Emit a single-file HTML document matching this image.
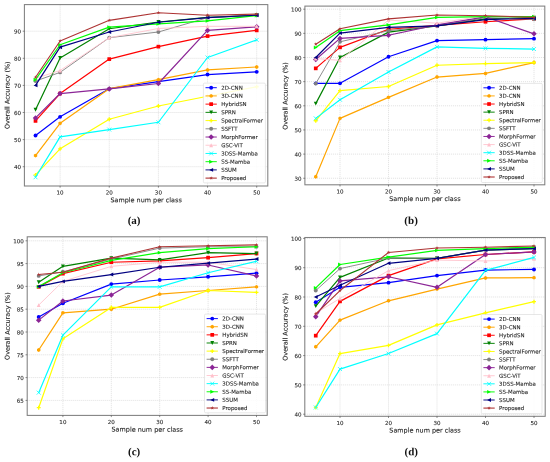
<!DOCTYPE html>
<html><head><meta charset="utf-8"><title>Overall accuracy vs. samples per class</title>
<style>
html,body{margin:0;padding:0;background:#fff;}
body{width:550px;height:462px;overflow:hidden;}
svg{display:block;text-rendering:geometricPrecision;}
.tk{font-family:'DejaVu Sans', 'Liberation Sans', sans-serif;font-size:5.55px;fill:#262626;stroke:#262626;stroke-width:0.1px;}
.lb{font-family:'DejaVu Sans', 'Liberation Sans', sans-serif;font-size:6.45px;fill:#262626;stroke:#262626;stroke-width:0.1px;}
.lg{font-family:'DejaVu Sans', 'Liberation Sans', sans-serif;font-size:5.45px;fill:#262626;stroke:#262626;stroke-width:0.1px;}
.cp{font-family:'Liberation Serif',serif;font-weight:bold;font-size:11px;fill:#111;}
</style></head>
<body>
<svg width="550" height="462" viewBox="0 0 550 462">
<rect width="550" height="462" fill="#fff"/>
<path d="M60.10 4.60V186.00M109.25 4.60V186.00M158.40 4.60V186.00M207.55 4.60V186.00M256.70 4.60V186.00M24.40 166.70H267.80M24.40 139.60H267.80M24.40 112.50H267.80M24.40 85.40H267.80M24.40 58.30H267.80M24.40 31.20H267.80" stroke="#d9d9d9" stroke-width="0.75" stroke-dasharray="1.1 0.9" fill="none"/>
<path d="M35.53 135.53L60.10 116.84L109.25 88.65L158.40 81.61L207.55 74.56L256.70 71.85" stroke="#0000ff" stroke-width="1.2" fill="none" stroke-linejoin="round"/>
<circle cx="35.53" cy="135.53" r="1.95" fill="#0000ff"/>
<circle cx="60.10" cy="116.84" r="1.95" fill="#0000ff"/>
<circle cx="109.25" cy="88.65" r="1.95" fill="#0000ff"/>
<circle cx="158.40" cy="81.61" r="1.95" fill="#0000ff"/>
<circle cx="207.55" cy="74.56" r="1.95" fill="#0000ff"/>
<circle cx="256.70" cy="71.85" r="1.95" fill="#0000ff"/>
<path d="M35.53 155.59L60.10 123.34L109.25 88.65L158.40 79.71L207.55 69.95L256.70 66.97" stroke="#ffa500" stroke-width="1.2" fill="none" stroke-linejoin="round"/>
<polygon points="35.53,153.64 37.21,154.61 37.21,156.56 35.53,157.54 33.84,156.56 33.84,154.61" fill="#ffa500"/>
<polygon points="60.10,121.39 61.79,122.37 61.79,124.31 60.10,125.29 58.41,124.31 58.41,122.37" fill="#ffa500"/>
<polygon points="109.25,86.70 110.94,87.68 110.94,89.63 109.25,90.60 107.56,89.63 107.56,87.68" fill="#ffa500"/>
<polygon points="158.40,77.76 160.09,78.73 160.09,80.68 158.40,81.66 156.71,80.68 156.71,78.73" fill="#ffa500"/>
<polygon points="207.55,68.00 209.24,68.98 209.24,70.93 207.55,71.90 205.86,70.93 205.86,68.98" fill="#ffa500"/>
<polygon points="256.70,65.02 258.39,66.00 258.39,67.95 256.70,68.92 255.01,67.95 255.01,66.00" fill="#ffa500"/>
<path d="M35.53 120.90L60.10 93.53L109.25 59.11L158.40 46.65L207.55 36.08L256.70 30.39" stroke="#ff0000" stroke-width="1.2" fill="none" stroke-linejoin="round"/>
<rect x="33.67" y="119.05" width="3.70" height="3.70" fill="#ff0000"/>
<rect x="58.25" y="91.68" width="3.70" height="3.70" fill="#ff0000"/>
<rect x="107.40" y="57.26" width="3.70" height="3.70" fill="#ff0000"/>
<rect x="156.55" y="44.79" width="3.70" height="3.70" fill="#ff0000"/>
<rect x="205.70" y="34.23" width="3.70" height="3.70" fill="#ff0000"/>
<rect x="254.85" y="28.53" width="3.70" height="3.70" fill="#ff0000"/>
<path d="M35.53 109.79L60.10 58.03L109.25 28.76L158.40 21.99L207.55 17.38L256.70 15.21" stroke="#008000" stroke-width="1.2" fill="none" stroke-linejoin="round"/>
<polygon points="35.53,111.74 33.58,107.84 37.48,107.84" fill="#008000"/>
<polygon points="60.10,59.98 58.15,56.08 62.05,56.08" fill="#008000"/>
<polygon points="109.25,30.71 107.30,26.81 111.20,26.81" fill="#008000"/>
<polygon points="158.40,23.94 156.45,20.04 160.35,20.04" fill="#008000"/>
<polygon points="207.55,19.33 205.60,15.43 209.50,15.43" fill="#008000"/>
<polygon points="256.70,17.16 254.75,13.26 258.65,13.26" fill="#008000"/>
<path d="M35.53 174.83L60.10 148.81L109.25 119.28L158.40 106.00L207.55 96.24L256.70 86.75" stroke="#ffff00" stroke-width="1.2" fill="none" stroke-linejoin="round"/>
<polygon points="34.88,172.88 36.18,172.88 36.18,174.18 37.48,174.18 37.48,175.48 36.18,175.48 36.18,176.78 34.88,176.78 34.88,175.48 33.58,175.48 33.58,174.18 34.88,174.18" fill="#ffff00"/>
<polygon points="59.45,146.86 60.75,146.86 60.75,148.16 62.05,148.16 62.05,149.46 60.75,149.46 60.75,150.76 59.45,150.76 59.45,149.46 58.15,149.46 58.15,148.16 59.45,148.16" fill="#ffff00"/>
<polygon points="108.60,117.33 109.90,117.33 109.90,118.62 111.20,118.62 111.20,119.93 109.90,119.93 109.90,121.23 108.60,121.23 108.60,119.93 107.30,119.93 107.30,118.62 108.60,118.62" fill="#ffff00"/>
<polygon points="157.75,104.05 159.05,104.05 159.05,105.35 160.35,105.35 160.35,106.65 159.05,106.65 159.05,107.95 157.75,107.95 157.75,106.65 156.45,106.65 156.45,105.35 157.75,105.35" fill="#ffff00"/>
<polygon points="206.90,94.29 208.20,94.29 208.20,95.59 209.50,95.59 209.50,96.89 208.20,96.89 208.20,98.19 206.90,98.19 206.90,96.89 205.60,96.89 205.60,95.59 206.90,95.59" fill="#ffff00"/>
<polygon points="256.05,84.80 257.35,84.80 257.35,86.10 258.65,86.10 258.65,87.41 257.35,87.41 257.35,88.70 256.05,88.70 256.05,87.41 254.75,87.41 254.75,86.10 256.05,86.10" fill="#ffff00"/>
<path d="M35.53 81.06L60.10 72.39L109.25 37.70L158.40 32.01L207.55 17.65L256.70 15.21" stroke="#808080" stroke-width="0.9" fill="none" stroke-linejoin="round"/>
<circle cx="35.53" cy="81.06" r="1.95" fill="#808080"/>
<circle cx="60.10" cy="72.39" r="1.95" fill="#808080"/>
<circle cx="109.25" cy="37.70" r="1.95" fill="#808080"/>
<circle cx="158.40" cy="32.01" r="1.95" fill="#808080"/>
<circle cx="207.55" cy="17.65" r="1.95" fill="#808080"/>
<circle cx="256.70" cy="15.21" r="1.95" fill="#808080"/>
<path d="M35.53 117.92L60.10 93.53L109.25 88.92L158.40 83.50L207.55 30.39L256.70 26.86" stroke="#8b2596" stroke-width="1.2" fill="none" stroke-linejoin="round"/>
<polygon points="35.53,115.15 38.29,117.92 35.53,120.69 32.76,117.92" fill="#8b2596"/>
<polygon points="60.10,90.76 62.87,93.53 60.10,96.30 57.33,93.53" fill="#8b2596"/>
<polygon points="109.25,86.15 112.02,88.92 109.25,91.69 106.48,88.92" fill="#8b2596"/>
<polygon points="158.40,80.73 161.17,83.50 158.40,86.27 155.63,83.50" fill="#8b2596"/>
<polygon points="207.55,27.62 210.32,30.39 207.55,33.16 204.78,30.39" fill="#8b2596"/>
<polygon points="256.70,24.10 259.47,26.86 256.70,29.63 253.93,26.86" fill="#8b2596"/>
<path d="M35.53 78.35L60.10 70.50L109.25 37.70L158.40 28.49L207.55 26.32L256.70 26.32" stroke="#ffc0cb" stroke-width="0.85" fill="none" stroke-linejoin="round"/>
<polygon points="35.53,76.40 33.58,80.30 37.48,80.30" fill="#ffc0cb"/>
<polygon points="60.10,68.55 58.15,72.45 62.05,72.45" fill="#ffc0cb"/>
<polygon points="109.25,35.75 107.30,39.65 111.20,39.65" fill="#ffc0cb"/>
<polygon points="158.40,26.54 156.45,30.44 160.35,30.44" fill="#ffc0cb"/>
<polygon points="207.55,24.37 205.60,28.27 209.50,28.27" fill="#ffc0cb"/>
<polygon points="256.70,24.37 254.75,28.27 258.65,28.27" fill="#ffc0cb"/>
<path d="M35.53 177.27L60.10 136.89L109.25 129.57L158.40 122.26L207.55 57.49L256.70 39.87" stroke="#00ffff" stroke-width="1.2" fill="none" stroke-linejoin="round"/>
<path d="M33.58 175.32L37.48 179.22M33.58 179.22L37.48 175.32" stroke="#00ffff" stroke-width="0.8" fill="none"/>
<path d="M58.15 134.94L62.05 138.84M58.15 138.84L62.05 134.94" stroke="#00ffff" stroke-width="0.8" fill="none"/>
<path d="M107.30 127.62L111.20 131.52M107.30 131.52L111.20 127.62" stroke="#00ffff" stroke-width="0.8" fill="none"/>
<path d="M156.45 120.31L160.35 124.21M156.45 124.21L160.35 120.31" stroke="#00ffff" stroke-width="0.8" fill="none"/>
<path d="M205.60 55.54L209.50 59.44M205.60 59.44L209.50 55.54" stroke="#00ffff" stroke-width="0.8" fill="none"/>
<path d="M254.75 37.92L258.65 41.82M254.75 41.82L258.65 37.92" stroke="#00ffff" stroke-width="0.8" fill="none"/>
<path d="M35.53 79.71L60.10 44.75L109.25 27.13L158.40 23.88L207.55 20.90L256.70 15.48" stroke="#00ff00" stroke-width="1.2" fill="none" stroke-linejoin="round"/>
<polygon points="37.48,79.71 33.58,77.76 33.58,81.66" fill="#00ff00"/>
<polygon points="62.05,44.75 58.15,42.80 58.15,46.70" fill="#00ff00"/>
<polygon points="111.20,27.13 107.30,25.18 107.30,29.08" fill="#00ff00"/>
<polygon points="160.35,23.88 156.45,21.93 156.45,25.83" fill="#00ff00"/>
<polygon points="209.50,20.90 205.60,18.95 205.60,22.85" fill="#00ff00"/>
<polygon points="258.65,15.48 254.75,13.53 254.75,17.43" fill="#00ff00"/>
<path d="M35.53 85.40L60.10 47.19L109.25 32.01L158.40 22.26L207.55 17.65L256.70 15.21" stroke="#000080" stroke-width="1.2" fill="none" stroke-linejoin="round"/>
<polygon points="33.58,85.40 37.48,83.45 37.48,87.35" fill="#000080"/>
<polygon points="58.15,47.19 62.05,45.24 62.05,49.14" fill="#000080"/>
<polygon points="107.30,32.01 111.20,30.06 111.20,33.96" fill="#000080"/>
<polygon points="156.45,22.26 160.35,20.31 160.35,24.21" fill="#000080"/>
<polygon points="205.60,17.65 209.50,15.70 209.50,19.60" fill="#000080"/>
<polygon points="254.75,15.21 258.65,13.26 258.65,17.16" fill="#000080"/>
<path d="M35.53 77.27L60.10 40.96L109.25 20.36L158.40 12.77L207.55 15.21L256.70 14.13" stroke="#ad3333" stroke-width="1.1" fill="none" stroke-linejoin="round"/>
<polygon points="35.53,75.32 35.96,76.67 37.38,76.67 36.23,77.50 36.67,78.85 35.53,78.01 34.38,78.85 34.82,77.50 33.67,76.67 35.09,76.67" fill="#ad3333"/>
<polygon points="60.10,39.01 60.54,40.35 61.95,40.35 60.81,41.19 61.25,42.53 60.10,41.70 58.95,42.53 59.39,41.19 58.25,40.35 59.66,40.35" fill="#ad3333"/>
<polygon points="109.25,18.41 109.69,19.76 111.10,19.76 109.96,20.59 110.40,21.94 109.25,21.10 108.10,21.94 108.54,20.59 107.40,19.76 108.81,19.76" fill="#ad3333"/>
<polygon points="158.40,10.82 158.84,12.17 160.25,12.17 159.11,13.00 159.55,14.35 158.40,13.52 157.25,14.35 157.69,13.00 156.55,12.17 157.96,12.17" fill="#ad3333"/>
<polygon points="207.55,13.26 207.99,14.61 209.40,14.61 208.26,15.44 208.70,16.79 207.55,15.96 206.40,16.79 206.84,15.44 205.70,14.61 207.11,14.61" fill="#ad3333"/>
<polygon points="256.70,12.18 257.14,13.52 258.55,13.52 257.41,14.36 257.85,15.70 256.70,14.87 255.55,15.70 255.99,14.36 254.85,13.52 256.26,13.52" fill="#ad3333"/>
<rect x="24.40" y="4.60" width="243.40" height="181.40" fill="none" stroke="#7f7f7f" stroke-width="1.05"/>
<path d="M60.10 186.00v1.7M109.25 186.00v1.7M158.40 186.00v1.7M207.55 186.00v1.7M256.70 186.00v1.7M24.40 166.70h-1.7M24.40 139.60h-1.7M24.40 112.50h-1.7M24.40 85.40h-1.7M24.40 58.30h-1.7M24.40 31.20h-1.7" stroke="#444" stroke-width="0.6" fill="none"/>
<text x="60.10" y="194.60" transform="rotate(0.05 60.10 194.60)" text-anchor="middle" class="tk">10</text>
<text x="109.25" y="194.60" transform="rotate(0.05 109.25 194.60)" text-anchor="middle" class="tk">20</text>
<text x="158.40" y="194.60" transform="rotate(0.05 158.40 194.60)" text-anchor="middle" class="tk">30</text>
<text x="207.55" y="194.60" transform="rotate(0.05 207.55 194.60)" text-anchor="middle" class="tk">40</text>
<text x="256.70" y="194.60" transform="rotate(0.05 256.70 194.60)" text-anchor="middle" class="tk">50</text>
<text x="21.10" y="169.10" transform="rotate(0.05 21.10 169.10)" text-anchor="end" class="tk">40</text>
<text x="21.10" y="142.00" transform="rotate(0.05 21.10 142.00)" text-anchor="end" class="tk">50</text>
<text x="21.10" y="114.90" transform="rotate(0.05 21.10 114.90)" text-anchor="end" class="tk">60</text>
<text x="21.10" y="87.80" transform="rotate(0.05 21.10 87.80)" text-anchor="end" class="tk">70</text>
<text x="21.10" y="60.70" transform="rotate(0.05 21.10 60.70)" text-anchor="end" class="tk">80</text>
<text x="21.10" y="33.60" transform="rotate(0.05 21.10 33.60)" text-anchor="end" class="tk">90</text>
<text x="146.10" y="202.25" transform="rotate(0.05 146.10 202.25)" text-anchor="middle" class="lb">Sample num per class</text>
<text transform="translate(9.60 95.30) rotate(-89.95)" text-anchor="middle" class="lb">Overall Accuracy (%)</text>
<rect x="203.40" y="83.10" width="62.00" height="99.80" rx="1.2" fill="#fff" fill-opacity="0.85" stroke="#d6d6d6" stroke-width="0.6"/>
<path d="M205.50 87.70H216.80" stroke="#0000ff" stroke-width="0.95"/>
<circle cx="211.15" cy="87.70" r="1.95" fill="#0000ff"/>
<text x="221.20" y="89.65" transform="rotate(0.05 221.20 89.65)" class="lg">2D-CNN</text>
<path d="M205.50 95.92H216.80" stroke="#ffa500" stroke-width="0.95"/>
<polygon points="211.15,93.97 212.84,94.95 212.84,96.89 211.15,97.87 209.46,96.89 209.46,94.95" fill="#ffa500"/>
<text x="221.20" y="97.87" transform="rotate(0.05 221.20 97.87)" class="lg">3D-CNN</text>
<path d="M205.50 104.14H216.80" stroke="#ff0000" stroke-width="0.95"/>
<rect x="209.30" y="102.29" width="3.70" height="3.70" fill="#ff0000"/>
<text x="221.20" y="106.09" transform="rotate(0.05 221.20 106.09)" class="lg">HybridSN</text>
<path d="M205.50 112.36H216.80" stroke="#008000" stroke-width="0.95"/>
<polygon points="211.15,114.31 209.20,110.41 213.10,110.41" fill="#008000"/>
<text x="221.20" y="114.31" transform="rotate(0.05 221.20 114.31)" class="lg">SPRN</text>
<path d="M205.50 120.58H216.80" stroke="#ffff00" stroke-width="0.95"/>
<polygon points="210.50,118.63 211.80,118.63 211.80,119.93 213.10,119.93 213.10,121.23 211.80,121.23 211.80,122.53 210.50,122.53 210.50,121.23 209.20,121.23 209.20,119.93 210.50,119.93" fill="#ffff00"/>
<text x="221.20" y="122.53" transform="rotate(0.05 221.20 122.53)" class="lg">SpectralFormer</text>
<path d="M205.50 128.80H216.80" stroke="#808080" stroke-width="0.9"/>
<circle cx="211.15" cy="128.80" r="1.95" fill="#808080"/>
<text x="221.20" y="130.75" transform="rotate(0.05 221.20 130.75)" class="lg">SSFTT</text>
<path d="M205.50 137.02H216.80" stroke="#8b2596" stroke-width="0.95"/>
<polygon points="211.15,134.25 213.92,137.02 211.15,139.79 208.38,137.02" fill="#8b2596"/>
<text x="221.20" y="138.97" transform="rotate(0.05 221.20 138.97)" class="lg">MorphFormer</text>
<path d="M205.50 145.24H216.80" stroke="#ffc0cb" stroke-width="0.85"/>
<polygon points="211.15,143.29 209.20,147.19 213.10,147.19" fill="#ffc0cb"/>
<text x="221.20" y="147.19" transform="rotate(0.05 221.20 147.19)" class="lg">GSC-ViT</text>
<path d="M205.50 153.46H216.80" stroke="#00ffff" stroke-width="0.95"/>
<path d="M209.20 151.51L213.10 155.41M209.20 155.41L213.10 151.51" stroke="#00ffff" stroke-width="0.8" fill="none"/>
<text x="221.20" y="155.41" transform="rotate(0.05 221.20 155.41)" class="lg">3DSS-Mamba</text>
<path d="M205.50 161.68H216.80" stroke="#00ff00" stroke-width="0.95"/>
<polygon points="213.10,161.68 209.20,159.73 209.20,163.63" fill="#00ff00"/>
<text x="221.20" y="163.63" transform="rotate(0.05 221.20 163.63)" class="lg">SS-Mamba</text>
<path d="M205.50 169.90H216.80" stroke="#000080" stroke-width="0.95"/>
<polygon points="209.20,169.90 213.10,167.95 213.10,171.85" fill="#000080"/>
<text x="221.20" y="171.85" transform="rotate(0.05 221.20 171.85)" class="lg">SSUM</text>
<path d="M205.50 178.12H216.80" stroke="#ad3333" stroke-width="1.1"/>
<polygon points="211.15,176.17 211.59,177.52 213.00,177.52 211.86,178.35 212.30,179.70 211.15,178.86 210.00,179.70 210.44,178.35 209.30,177.52 210.71,177.52" fill="#ad3333"/>
<text x="221.20" y="180.07" transform="rotate(0.05 221.20 180.07)" class="lg">Proposed</text>
<text x="134.10" y="224.00" transform="rotate(0.05 134.10 224.00)" text-anchor="middle" class="cp">(a)</text>
<path d="M340.00 6.10V184.80M388.50 6.10V184.80M437.00 6.10V184.80M485.50 6.10V184.80M534.00 6.10V184.80M304.90 178.25H544.80M304.90 154.10H544.80M304.90 129.95H544.80M304.90 105.80H544.80M304.90 81.65H544.80M304.90 57.50H544.80M304.90 33.35H544.80M304.90 9.20H544.80" stroke="#d9d9d9" stroke-width="0.75" stroke-dasharray="1.1 0.9" fill="none"/>
<path d="M315.75 83.34L340.00 83.34L388.50 56.78L437.00 40.59L485.50 39.63L534.00 38.66" stroke="#0000ff" stroke-width="1.2" fill="none" stroke-linejoin="round"/>
<circle cx="315.75" cy="83.34" r="1.95" fill="#0000ff"/>
<circle cx="340.00" cy="83.34" r="1.95" fill="#0000ff"/>
<circle cx="388.50" cy="56.78" r="1.95" fill="#0000ff"/>
<circle cx="437.00" cy="40.59" r="1.95" fill="#0000ff"/>
<circle cx="485.50" cy="39.63" r="1.95" fill="#0000ff"/>
<circle cx="534.00" cy="38.66" r="1.95" fill="#0000ff"/>
<path d="M315.75 176.80L340.00 118.36L388.50 97.35L437.00 77.06L485.50 73.44L534.00 62.57" stroke="#ffa500" stroke-width="1.2" fill="none" stroke-linejoin="round"/>
<polygon points="315.75,174.85 317.44,175.83 317.44,177.78 315.75,178.75 314.06,177.78 314.06,175.83" fill="#ffa500"/>
<polygon points="340.00,116.41 341.69,117.38 341.69,119.33 340.00,120.31 338.31,119.33 338.31,117.38" fill="#ffa500"/>
<polygon points="388.50,95.40 390.19,96.37 390.19,98.32 388.50,99.30 386.81,98.32 386.81,96.37" fill="#ffa500"/>
<polygon points="437.00,75.11 438.69,76.09 438.69,78.04 437.00,79.01 435.31,78.04 435.31,76.09" fill="#ffa500"/>
<polygon points="485.50,71.49 487.19,72.46 487.19,74.41 485.50,75.39 483.81,74.41 483.81,72.46" fill="#ffa500"/>
<polygon points="534.00,60.62 535.69,61.60 535.69,63.55 534.00,64.52 532.31,63.55 532.31,61.60" fill="#ffa500"/>
<path d="M315.75 68.37L340.00 47.36L388.50 29.24L437.00 25.38L485.50 21.76L534.00 18.86" stroke="#ff0000" stroke-width="1.2" fill="none" stroke-linejoin="round"/>
<rect x="313.90" y="66.52" width="3.70" height="3.70" fill="#ff0000"/>
<rect x="338.15" y="45.50" width="3.70" height="3.70" fill="#ff0000"/>
<rect x="386.65" y="27.39" width="3.70" height="3.70" fill="#ff0000"/>
<rect x="435.15" y="23.53" width="3.70" height="3.70" fill="#ff0000"/>
<rect x="483.65" y="19.91" width="3.70" height="3.70" fill="#ff0000"/>
<rect x="532.15" y="17.01" width="3.70" height="3.70" fill="#ff0000"/>
<path d="M315.75 103.63L340.00 57.50L388.50 32.14L437.00 25.86L485.50 18.86L534.00 17.65" stroke="#008000" stroke-width="1.2" fill="none" stroke-linejoin="round"/>
<polygon points="315.75,105.58 313.80,101.68 317.70,101.68" fill="#008000"/>
<polygon points="340.00,59.45 338.05,55.55 341.95,55.55" fill="#008000"/>
<polygon points="388.50,34.09 386.55,30.19 390.45,30.19" fill="#008000"/>
<polygon points="437.00,27.81 435.05,23.91 438.95,23.91" fill="#008000"/>
<polygon points="485.50,20.81 483.55,16.91 487.45,16.91" fill="#008000"/>
<polygon points="534.00,19.60 532.05,15.70 535.95,15.70" fill="#008000"/>
<path d="M315.75 120.77L340.00 90.59L388.50 86.48L437.00 65.23L485.50 63.54L534.00 62.57" stroke="#ffff00" stroke-width="1.2" fill="none" stroke-linejoin="round"/>
<polygon points="315.10,118.82 316.40,118.82 316.40,120.12 317.70,120.12 317.70,121.42 316.40,121.42 316.40,122.72 315.10,122.72 315.10,121.42 313.80,121.42 313.80,120.12 315.10,120.12" fill="#ffff00"/>
<polygon points="339.35,88.64 340.65,88.64 340.65,89.94 341.95,89.94 341.95,91.24 340.65,91.24 340.65,92.54 339.35,92.54 339.35,91.24 338.05,91.24 338.05,89.94 339.35,89.94" fill="#ffff00"/>
<polygon points="387.85,84.53 389.15,84.53 389.15,85.83 390.45,85.83 390.45,87.13 389.15,87.13 389.15,88.43 387.85,88.43 387.85,87.13 386.55,87.13 386.55,85.83 387.85,85.83" fill="#ffff00"/>
<polygon points="436.35,63.28 437.65,63.28 437.65,64.58 438.95,64.58 438.95,65.88 437.65,65.88 437.65,67.18 436.35,67.18 436.35,65.88 435.05,65.88 435.05,64.58 436.35,64.58" fill="#ffff00"/>
<polygon points="484.85,61.59 486.15,61.59 486.15,62.89 487.45,62.89 487.45,64.19 486.15,64.19 486.15,65.49 484.85,65.49 484.85,64.19 483.55,64.19 483.55,62.89 484.85,62.89" fill="#ffff00"/>
<polygon points="533.35,60.62 534.65,60.62 534.65,61.92 535.95,61.92 535.95,63.22 534.65,63.22 534.65,64.52 533.35,64.52 533.35,63.22 532.05,63.22 532.05,61.92 533.35,61.92" fill="#ffff00"/>
<path d="M315.75 83.58L340.00 41.80L388.50 30.69L437.00 25.86L485.50 17.65L534.00 19.34" stroke="#808080" stroke-width="0.9" fill="none" stroke-linejoin="round"/>
<circle cx="315.75" cy="83.58" r="1.95" fill="#808080"/>
<circle cx="340.00" cy="41.80" r="1.95" fill="#808080"/>
<circle cx="388.50" cy="30.69" r="1.95" fill="#808080"/>
<circle cx="437.00" cy="25.86" r="1.95" fill="#808080"/>
<circle cx="485.50" cy="17.65" r="1.95" fill="#808080"/>
<circle cx="534.00" cy="19.34" r="1.95" fill="#808080"/>
<path d="M315.75 59.43L340.00 38.42L388.50 35.28L437.00 24.90L485.50 16.93L534.00 33.83" stroke="#8b2596" stroke-width="1.2" fill="none" stroke-linejoin="round"/>
<polygon points="315.75,56.66 318.52,59.43 315.75,62.20 312.98,59.43" fill="#8b2596"/>
<polygon points="340.00,35.65 342.77,38.42 340.00,41.19 337.23,38.42" fill="#8b2596"/>
<polygon points="388.50,32.51 391.27,35.28 388.50,38.05 385.73,35.28" fill="#8b2596"/>
<polygon points="437.00,22.13 439.77,24.90 437.00,27.67 434.23,24.90" fill="#8b2596"/>
<polygon points="485.50,14.16 488.27,16.93 485.50,19.70 482.73,16.93" fill="#8b2596"/>
<polygon points="534.00,31.06 536.77,33.83 534.00,36.60 531.23,33.83" fill="#8b2596"/>
<path d="M315.75 58.47L340.00 60.40L388.50 20.07L437.00 23.21L485.50 15.72L534.00 16.69" stroke="#ffc0cb" stroke-width="0.85" fill="none" stroke-linejoin="round"/>
<polygon points="315.75,56.52 313.80,60.42 317.70,60.42" fill="#ffc0cb"/>
<polygon points="340.00,58.45 338.05,62.35 341.95,62.35" fill="#ffc0cb"/>
<polygon points="388.50,18.12 386.55,22.02 390.45,22.02" fill="#ffc0cb"/>
<polygon points="437.00,21.26 435.05,25.16 438.95,25.16" fill="#ffc0cb"/>
<polygon points="485.50,13.77 483.55,17.67 487.45,17.67" fill="#ffc0cb"/>
<polygon points="534.00,14.74 532.05,18.64 535.95,18.64" fill="#ffc0cb"/>
<path d="M315.75 118.36L340.00 99.76L388.50 71.99L437.00 46.87L485.50 48.32L534.00 49.05" stroke="#00ffff" stroke-width="1.2" fill="none" stroke-linejoin="round"/>
<path d="M313.80 116.41L317.70 120.31M313.80 120.31L317.70 116.41" stroke="#00ffff" stroke-width="0.8" fill="none"/>
<path d="M338.05 97.81L341.95 101.71M338.05 101.71L341.95 97.81" stroke="#00ffff" stroke-width="0.8" fill="none"/>
<path d="M386.55 70.04L390.45 73.94M386.55 73.94L390.45 70.04" stroke="#00ffff" stroke-width="0.8" fill="none"/>
<path d="M435.05 44.92L438.95 48.82M435.05 48.82L438.95 44.92" stroke="#00ffff" stroke-width="0.8" fill="none"/>
<path d="M483.55 46.37L487.45 50.27M483.55 50.27L487.45 46.37" stroke="#00ffff" stroke-width="0.8" fill="none"/>
<path d="M532.05 47.10L535.95 51.00M532.05 51.00L535.95 47.10" stroke="#00ffff" stroke-width="0.8" fill="none"/>
<path d="M315.75 47.60L340.00 30.69L388.50 24.90L437.00 17.41L485.50 16.69L534.00 16.69" stroke="#00ff00" stroke-width="1.2" fill="none" stroke-linejoin="round"/>
<polygon points="317.70,47.60 313.80,45.65 313.80,49.55" fill="#00ff00"/>
<polygon points="341.95,30.69 338.05,28.74 338.05,32.64" fill="#00ff00"/>
<polygon points="390.45,24.90 386.55,22.95 386.55,26.85" fill="#00ff00"/>
<polygon points="438.95,17.41 435.05,15.46 435.05,19.36" fill="#00ff00"/>
<polygon points="487.45,16.69 483.55,14.74 483.55,18.64" fill="#00ff00"/>
<polygon points="535.95,16.69 532.05,14.74 532.05,18.64" fill="#00ff00"/>
<path d="M315.75 57.50L340.00 33.11L388.50 27.31L437.00 25.86L485.50 19.58L534.00 18.38" stroke="#000080" stroke-width="1.2" fill="none" stroke-linejoin="round"/>
<polygon points="313.80,57.50 317.70,55.55 317.70,59.45" fill="#000080"/>
<polygon points="338.05,33.11 341.95,31.16 341.95,35.06" fill="#000080"/>
<polygon points="386.55,27.31 390.45,25.36 390.45,29.26" fill="#000080"/>
<polygon points="435.05,25.86 438.95,23.91 438.95,27.81" fill="#000080"/>
<polygon points="483.55,19.58 487.45,17.63 487.45,21.53" fill="#000080"/>
<polygon points="532.05,18.38 535.95,16.43 535.95,20.33" fill="#000080"/>
<path d="M315.75 44.22L340.00 28.76L388.50 18.86L437.00 15.00L485.50 15.72L534.00 17.41" stroke="#ad3333" stroke-width="1.1" fill="none" stroke-linejoin="round"/>
<polygon points="315.75,42.27 316.19,43.61 317.60,43.61 316.46,44.45 316.90,45.80 315.75,44.96 314.60,45.80 315.04,44.45 313.90,43.61 315.31,43.61" fill="#ad3333"/>
<polygon points="340.00,26.81 340.44,28.16 341.85,28.16 340.71,28.99 341.15,30.34 340.00,29.51 338.85,30.34 339.29,28.99 338.15,28.16 339.56,28.16" fill="#ad3333"/>
<polygon points="388.50,16.91 388.94,18.26 390.35,18.26 389.21,19.09 389.65,20.44 388.50,19.60 387.35,20.44 387.79,19.09 386.65,18.26 388.06,18.26" fill="#ad3333"/>
<polygon points="437.00,13.05 437.44,14.39 438.85,14.39 437.71,15.23 438.15,16.57 437.00,15.74 435.85,16.57 436.29,15.23 435.15,14.39 436.56,14.39" fill="#ad3333"/>
<polygon points="485.50,13.77 485.94,15.12 487.35,15.12 486.21,15.95 486.65,17.30 485.50,16.47 484.35,17.30 484.79,15.95 483.65,15.12 485.06,15.12" fill="#ad3333"/>
<polygon points="534.00,15.46 534.44,16.81 535.85,16.81 534.71,17.64 535.15,18.99 534.00,18.16 532.85,18.99 533.29,17.64 532.15,16.81 533.56,16.81" fill="#ad3333"/>
<rect x="304.90" y="6.10" width="239.90" height="178.70" fill="none" stroke="#7f7f7f" stroke-width="1.05"/>
<path d="M340.00 184.80v1.7M388.50 184.80v1.7M437.00 184.80v1.7M485.50 184.80v1.7M534.00 184.80v1.7M304.90 178.25h-1.7M304.90 154.10h-1.7M304.90 129.95h-1.7M304.90 105.80h-1.7M304.90 81.65h-1.7M304.90 57.50h-1.7M304.90 33.35h-1.7M304.90 9.20h-1.7" stroke="#444" stroke-width="0.6" fill="none"/>
<text x="340.00" y="193.40" transform="rotate(0.05 340.00 193.40)" text-anchor="middle" class="tk">10</text>
<text x="388.50" y="193.40" transform="rotate(0.05 388.50 193.40)" text-anchor="middle" class="tk">20</text>
<text x="437.00" y="193.40" transform="rotate(0.05 437.00 193.40)" text-anchor="middle" class="tk">30</text>
<text x="485.50" y="193.40" transform="rotate(0.05 485.50 193.40)" text-anchor="middle" class="tk">40</text>
<text x="534.00" y="193.40" transform="rotate(0.05 534.00 193.40)" text-anchor="middle" class="tk">50</text>
<text x="301.60" y="180.65" transform="rotate(0.05 301.60 180.65)" text-anchor="end" class="tk">30</text>
<text x="301.60" y="156.50" transform="rotate(0.05 301.60 156.50)" text-anchor="end" class="tk">40</text>
<text x="301.60" y="132.35" transform="rotate(0.05 301.60 132.35)" text-anchor="end" class="tk">50</text>
<text x="301.60" y="108.20" transform="rotate(0.05 301.60 108.20)" text-anchor="end" class="tk">60</text>
<text x="301.60" y="84.05" transform="rotate(0.05 301.60 84.05)" text-anchor="end" class="tk">70</text>
<text x="301.60" y="59.90" transform="rotate(0.05 301.60 59.90)" text-anchor="end" class="tk">80</text>
<text x="301.60" y="35.75" transform="rotate(0.05 301.60 35.75)" text-anchor="end" class="tk">90</text>
<text x="301.60" y="11.60" transform="rotate(0.05 301.60 11.60)" text-anchor="end" class="tk">100</text>
<text x="424.85" y="201.05" transform="rotate(0.05 424.85 201.05)" text-anchor="middle" class="lb">Sample num per class</text>
<text transform="translate(287.55 96.05) rotate(-89.95)" text-anchor="middle" class="lb">Overall Accuracy (%)</text>
<rect x="481.30" y="83.40" width="61.00" height="99.10" rx="1.2" fill="#fff" fill-opacity="0.85" stroke="#d6d6d6" stroke-width="0.6"/>
<path d="M483.40 87.80H494.70" stroke="#0000ff" stroke-width="0.95"/>
<circle cx="489.05" cy="87.80" r="1.95" fill="#0000ff"/>
<text x="499.10" y="89.75" transform="rotate(0.05 499.10 89.75)" class="lg">2D-CNN</text>
<path d="M483.40 95.91H494.70" stroke="#ffa500" stroke-width="0.95"/>
<polygon points="489.05,93.96 490.74,94.94 490.74,96.88 489.05,97.86 487.36,96.88 487.36,94.94" fill="#ffa500"/>
<text x="499.10" y="97.86" transform="rotate(0.05 499.10 97.86)" class="lg">3D-CNN</text>
<path d="M483.40 104.02H494.70" stroke="#ff0000" stroke-width="0.95"/>
<rect x="487.20" y="102.17" width="3.70" height="3.70" fill="#ff0000"/>
<text x="499.10" y="105.97" transform="rotate(0.05 499.10 105.97)" class="lg">HybridSN</text>
<path d="M483.40 112.13H494.70" stroke="#008000" stroke-width="0.95"/>
<polygon points="489.05,114.08 487.10,110.18 491.00,110.18" fill="#008000"/>
<text x="499.10" y="114.08" transform="rotate(0.05 499.10 114.08)" class="lg">SPRN</text>
<path d="M483.40 120.24H494.70" stroke="#ffff00" stroke-width="0.95"/>
<polygon points="488.40,118.29 489.70,118.29 489.70,119.59 491.00,119.59 491.00,120.89 489.70,120.89 489.70,122.19 488.40,122.19 488.40,120.89 487.10,120.89 487.10,119.59 488.40,119.59" fill="#ffff00"/>
<text x="499.10" y="122.19" transform="rotate(0.05 499.10 122.19)" class="lg">SpectralFormer</text>
<path d="M483.40 128.35H494.70" stroke="#808080" stroke-width="0.9"/>
<circle cx="489.05" cy="128.35" r="1.95" fill="#808080"/>
<text x="499.10" y="130.30" transform="rotate(0.05 499.10 130.30)" class="lg">SSFTT</text>
<path d="M483.40 136.46H494.70" stroke="#8b2596" stroke-width="0.95"/>
<polygon points="489.05,133.69 491.82,136.46 489.05,139.23 486.28,136.46" fill="#8b2596"/>
<text x="499.10" y="138.41" transform="rotate(0.05 499.10 138.41)" class="lg">MorphFormer</text>
<path d="M483.40 144.57H494.70" stroke="#ffc0cb" stroke-width="0.85"/>
<polygon points="489.05,142.62 487.10,146.52 491.00,146.52" fill="#ffc0cb"/>
<text x="499.10" y="146.52" transform="rotate(0.05 499.10 146.52)" class="lg">GSC-ViT</text>
<path d="M483.40 152.68H494.70" stroke="#00ffff" stroke-width="0.95"/>
<path d="M487.10 150.73L491.00 154.63M487.10 154.63L491.00 150.73" stroke="#00ffff" stroke-width="0.8" fill="none"/>
<text x="499.10" y="154.63" transform="rotate(0.05 499.10 154.63)" class="lg">3DSS-Mamba</text>
<path d="M483.40 160.79H494.70" stroke="#00ff00" stroke-width="0.95"/>
<polygon points="491.00,160.79 487.10,158.84 487.10,162.74" fill="#00ff00"/>
<text x="499.10" y="162.74" transform="rotate(0.05 499.10 162.74)" class="lg">SS-Mamba</text>
<path d="M483.40 168.90H494.70" stroke="#000080" stroke-width="0.95"/>
<polygon points="487.10,168.90 491.00,166.95 491.00,170.85" fill="#000080"/>
<text x="499.10" y="170.85" transform="rotate(0.05 499.10 170.85)" class="lg">SSUM</text>
<path d="M483.40 177.01H494.70" stroke="#ad3333" stroke-width="1.1"/>
<polygon points="489.05,175.06 489.49,176.41 490.90,176.41 489.76,177.24 490.20,178.59 489.05,177.75 487.90,178.59 488.34,177.24 487.20,176.41 488.61,176.41" fill="#ad3333"/>
<text x="499.10" y="178.96" transform="rotate(0.05 499.10 178.96)" class="lg">Proposed</text>
<text x="411.10" y="224.00" transform="rotate(0.05 411.10 224.00)" text-anchor="middle" class="cp">(b)</text>
<path d="M62.90 236.80V415.40M111.30 236.80V415.40M159.70 236.80V415.40M208.10 236.80V415.40M256.50 236.80V415.40M27.20 400.40H267.20M27.20 377.60H267.20M27.20 354.80H267.20M27.20 332.00H267.20M27.20 309.20H267.20M27.20 286.40H267.20M27.20 263.60H267.20M27.20 240.80H267.20" stroke="#d9d9d9" stroke-width="0.75" stroke-dasharray="1.1 0.9" fill="none"/>
<path d="M38.70 316.95L62.90 303.27L111.30 284.12L159.70 280.02L208.10 276.82L256.50 273.18" stroke="#0000ff" stroke-width="1.2" fill="none" stroke-linejoin="round"/>
<circle cx="38.70" cy="316.95" r="1.95" fill="#0000ff"/>
<circle cx="62.90" cy="303.27" r="1.95" fill="#0000ff"/>
<circle cx="111.30" cy="284.12" r="1.95" fill="#0000ff"/>
<circle cx="159.70" cy="280.02" r="1.95" fill="#0000ff"/>
<circle cx="208.10" cy="276.82" r="1.95" fill="#0000ff"/>
<circle cx="256.50" cy="273.18" r="1.95" fill="#0000ff"/>
<path d="M38.70 350.01L62.90 312.85L111.30 309.20L159.70 294.15L208.10 290.50L256.50 286.86" stroke="#ffa500" stroke-width="1.2" fill="none" stroke-linejoin="round"/>
<polygon points="38.70,348.06 40.39,349.04 40.39,350.99 38.70,351.96 37.01,350.99 37.01,349.04" fill="#ffa500"/>
<polygon points="62.90,310.90 64.59,311.87 64.59,313.82 62.90,314.80 61.21,313.82 61.21,311.87" fill="#ffa500"/>
<polygon points="111.30,307.25 112.99,308.22 112.99,310.18 111.30,311.15 109.61,310.18 109.61,308.22" fill="#ffa500"/>
<polygon points="159.70,292.20 161.39,293.18 161.39,295.13 159.70,296.10 158.01,295.13 158.01,293.18" fill="#ffa500"/>
<polygon points="208.10,288.55 209.79,289.53 209.79,291.48 208.10,292.45 206.41,291.48 206.41,289.53" fill="#ffa500"/>
<polygon points="256.50,284.91 258.19,285.88 258.19,287.83 256.50,288.81 254.81,287.83 254.81,285.88" fill="#ffa500"/>
<path d="M38.70 286.86L62.90 273.63L111.30 262.23L159.70 260.86L208.10 257.67L256.50 253.57" stroke="#ff0000" stroke-width="1.2" fill="none" stroke-linejoin="round"/>
<rect x="36.85" y="285.00" width="3.70" height="3.70" fill="#ff0000"/>
<rect x="61.05" y="271.78" width="3.70" height="3.70" fill="#ff0000"/>
<rect x="109.45" y="260.38" width="3.70" height="3.70" fill="#ff0000"/>
<rect x="157.85" y="259.01" width="3.70" height="3.70" fill="#ff0000"/>
<rect x="206.25" y="255.82" width="3.70" height="3.70" fill="#ff0000"/>
<rect x="254.65" y="251.72" width="3.70" height="3.70" fill="#ff0000"/>
<path d="M38.70 282.30L62.90 266.34L111.30 258.13L159.70 259.95L208.10 252.66L256.50 253.57" stroke="#008000" stroke-width="1.2" fill="none" stroke-linejoin="round"/>
<polygon points="38.70,284.25 36.75,280.35 40.65,280.35" fill="#008000"/>
<polygon points="62.90,268.29 60.95,264.39 64.85,264.39" fill="#008000"/>
<polygon points="111.30,260.08 109.35,256.18 113.25,256.18" fill="#008000"/>
<polygon points="159.70,261.90 157.75,258.00 161.65,258.00" fill="#008000"/>
<polygon points="208.10,254.61 206.15,250.71 210.05,250.71" fill="#008000"/>
<polygon points="256.50,255.52 254.55,251.62 258.45,251.62" fill="#008000"/>
<path d="M38.70 407.70L62.90 338.84L111.30 307.38L159.70 307.38L208.10 290.50L256.50 292.33" stroke="#ffff00" stroke-width="1.2" fill="none" stroke-linejoin="round"/>
<polygon points="38.05,405.75 39.35,405.75 39.35,407.05 40.65,407.05 40.65,408.35 39.35,408.35 39.35,409.65 38.05,409.65 38.05,408.35 36.75,408.35 36.75,407.05 38.05,407.05" fill="#ffff00"/>
<polygon points="62.25,336.89 63.55,336.89 63.55,338.19 64.85,338.19 64.85,339.49 63.55,339.49 63.55,340.79 62.25,340.79 62.25,339.49 60.95,339.49 60.95,338.19 62.25,338.19" fill="#ffff00"/>
<polygon points="110.65,305.43 111.95,305.43 111.95,306.73 113.25,306.73 113.25,308.03 111.95,308.03 111.95,309.33 110.65,309.33 110.65,308.03 109.35,308.03 109.35,306.73 110.65,306.73" fill="#ffff00"/>
<polygon points="159.05,305.43 160.35,305.43 160.35,306.73 161.65,306.73 161.65,308.03 160.35,308.03 160.35,309.33 159.05,309.33 159.05,308.03 157.75,308.03 157.75,306.73 159.05,306.73" fill="#ffff00"/>
<polygon points="207.45,288.55 208.75,288.55 208.75,289.85 210.05,289.85 210.05,291.15 208.75,291.15 208.75,292.45 207.45,292.45 207.45,291.15 206.15,291.15 206.15,289.85 207.45,289.85" fill="#ffff00"/>
<polygon points="255.85,290.38 257.15,290.38 257.15,291.68 258.45,291.68 258.45,292.98 257.15,292.98 257.15,294.28 255.85,294.28 255.85,292.98 254.55,292.98 254.55,291.68 255.85,291.68" fill="#ffff00"/>
<path d="M38.70 275.91L62.90 271.81L111.30 259.04L159.70 248.10L208.10 246.73L256.50 246.73" stroke="#808080" stroke-width="0.9" fill="none" stroke-linejoin="round"/>
<circle cx="38.70" cy="275.91" r="1.95" fill="#808080"/>
<circle cx="62.90" cy="271.81" r="1.95" fill="#808080"/>
<circle cx="111.30" cy="259.04" r="1.95" fill="#808080"/>
<circle cx="159.70" cy="248.10" r="1.95" fill="#808080"/>
<circle cx="208.10" cy="246.73" r="1.95" fill="#808080"/>
<circle cx="256.50" cy="246.73" r="1.95" fill="#808080"/>
<path d="M38.70 320.14L62.90 300.99L111.30 295.06L159.70 267.25L208.10 264.97L256.50 275.91" stroke="#8b2596" stroke-width="1.2" fill="none" stroke-linejoin="round"/>
<polygon points="38.70,317.38 41.47,320.14 38.70,322.91 35.93,320.14" fill="#8b2596"/>
<polygon points="62.90,298.22 65.67,300.99 62.90,303.76 60.13,300.99" fill="#8b2596"/>
<polygon points="111.30,292.30 114.07,295.06 111.30,297.83 108.53,295.06" fill="#8b2596"/>
<polygon points="159.70,264.48 162.47,267.25 159.70,270.02 156.93,267.25" fill="#8b2596"/>
<polygon points="208.10,262.20 210.87,264.97 208.10,267.74 205.33,264.97" fill="#8b2596"/>
<polygon points="256.50,273.14 259.27,275.91 256.50,278.68 253.73,275.91" fill="#8b2596"/>
<path d="M38.70 305.10L62.90 281.38L111.30 266.34L159.70 262.23L208.10 262.23L256.50 269.53" stroke="#ffc0cb" stroke-width="0.85" fill="none" stroke-linejoin="round"/>
<polygon points="38.70,303.15 36.75,307.05 40.65,307.05" fill="#ffc0cb"/>
<polygon points="62.90,279.43 60.95,283.33 64.85,283.33" fill="#ffc0cb"/>
<polygon points="111.30,264.39 109.35,268.29 113.25,268.29" fill="#ffc0cb"/>
<polygon points="159.70,260.28 157.75,264.18 161.65,264.18" fill="#ffc0cb"/>
<polygon points="208.10,260.28 206.15,264.18 210.05,264.18" fill="#ffc0cb"/>
<polygon points="256.50,267.58 254.55,271.48 258.45,271.48" fill="#ffc0cb"/>
<path d="M38.70 392.65L62.90 335.19L111.30 286.86L159.70 286.86L208.10 272.72L256.50 261.32" stroke="#00ffff" stroke-width="1.2" fill="none" stroke-linejoin="round"/>
<path d="M36.75 390.70L40.65 394.60M36.75 394.60L40.65 390.70" stroke="#00ffff" stroke-width="0.8" fill="none"/>
<path d="M60.95 333.24L64.85 337.14M60.95 337.14L64.85 333.24" stroke="#00ffff" stroke-width="0.8" fill="none"/>
<path d="M109.35 284.91L113.25 288.81M109.35 288.81L113.25 284.91" stroke="#00ffff" stroke-width="0.8" fill="none"/>
<path d="M157.75 284.91L161.65 288.81M157.75 288.81L161.65 284.91" stroke="#00ffff" stroke-width="0.8" fill="none"/>
<path d="M206.15 270.77L210.05 274.67M206.15 274.67L210.05 270.77" stroke="#00ffff" stroke-width="0.8" fill="none"/>
<path d="M254.55 259.37L258.45 263.27M254.55 263.27L258.45 259.37" stroke="#00ffff" stroke-width="0.8" fill="none"/>
<path d="M38.70 286.63L62.90 272.72L111.30 260.41L159.70 252.66L208.10 248.55L256.50 246.73" stroke="#00ff00" stroke-width="1.2" fill="none" stroke-linejoin="round"/>
<polygon points="40.65,286.63 36.75,284.68 36.75,288.58" fill="#00ff00"/>
<polygon points="64.85,272.72 60.95,270.77 60.95,274.67" fill="#00ff00"/>
<polygon points="113.25,260.41 109.35,258.46 109.35,262.36" fill="#00ff00"/>
<polygon points="161.65,252.66 157.75,250.71 157.75,254.61" fill="#00ff00"/>
<polygon points="210.05,248.55 206.15,246.60 206.15,250.50" fill="#00ff00"/>
<polygon points="258.45,246.73 254.55,244.78 254.55,248.68" fill="#00ff00"/>
<path d="M38.70 286.40L62.90 281.38L111.30 274.54L159.70 267.25L208.10 263.14L256.50 259.04" stroke="#000080" stroke-width="1.2" fill="none" stroke-linejoin="round"/>
<polygon points="36.75,286.40 40.65,284.45 40.65,288.35" fill="#000080"/>
<polygon points="60.95,281.38 64.85,279.43 64.85,283.33" fill="#000080"/>
<polygon points="109.35,274.54 113.25,272.59 113.25,276.49" fill="#000080"/>
<polygon points="157.75,267.25 161.65,265.30 161.65,269.20" fill="#000080"/>
<polygon points="206.15,263.14 210.05,261.19 210.05,265.09" fill="#000080"/>
<polygon points="254.55,259.04 258.45,257.09 258.45,260.99" fill="#000080"/>
<path d="M38.70 274.54L62.90 272.26L111.30 258.13L159.70 246.73L208.10 245.82L256.50 244.90" stroke="#ad3333" stroke-width="1.1" fill="none" stroke-linejoin="round"/>
<polygon points="38.70,272.59 39.14,273.94 40.55,273.94 39.41,274.77 39.85,276.12 38.70,275.29 37.55,276.12 37.99,274.77 36.85,273.94 38.26,273.94" fill="#ad3333"/>
<polygon points="62.90,270.31 63.34,271.66 64.75,271.66 63.61,272.49 64.05,273.84 62.90,273.01 61.75,273.84 62.19,272.49 61.05,271.66 62.46,271.66" fill="#ad3333"/>
<polygon points="111.30,256.18 111.74,257.53 113.15,257.53 112.01,258.36 112.45,259.71 111.30,258.87 110.15,259.71 110.59,258.36 109.45,257.53 110.86,257.53" fill="#ad3333"/>
<polygon points="159.70,244.78 160.14,246.13 161.55,246.13 160.41,246.96 160.85,248.31 159.70,247.47 158.55,248.31 158.99,246.96 157.85,246.13 159.26,246.13" fill="#ad3333"/>
<polygon points="208.10,243.87 208.54,245.21 209.95,245.21 208.81,246.05 209.25,247.39 208.10,246.56 206.95,247.39 207.39,246.05 206.25,245.21 207.66,245.21" fill="#ad3333"/>
<polygon points="256.50,242.95 256.94,244.30 258.35,244.30 257.21,245.13 257.65,246.48 256.50,245.65 255.35,246.48 255.79,245.13 254.65,244.30 256.06,244.30" fill="#ad3333"/>
<rect x="27.20" y="236.80" width="240.00" height="178.60" fill="none" stroke="#7f7f7f" stroke-width="1.05"/>
<path d="M62.90 415.40v1.7M111.30 415.40v1.7M159.70 415.40v1.7M208.10 415.40v1.7M256.50 415.40v1.7M27.20 400.40h-1.7M27.20 377.60h-1.7M27.20 354.80h-1.7M27.20 332.00h-1.7M27.20 309.20h-1.7M27.20 286.40h-1.7M27.20 263.60h-1.7M27.20 240.80h-1.7" stroke="#444" stroke-width="0.6" fill="none"/>
<text x="62.90" y="424.00" transform="rotate(0.05 62.90 424.00)" text-anchor="middle" class="tk">10</text>
<text x="111.30" y="424.00" transform="rotate(0.05 111.30 424.00)" text-anchor="middle" class="tk">20</text>
<text x="159.70" y="424.00" transform="rotate(0.05 159.70 424.00)" text-anchor="middle" class="tk">30</text>
<text x="208.10" y="424.00" transform="rotate(0.05 208.10 424.00)" text-anchor="middle" class="tk">40</text>
<text x="256.50" y="424.00" transform="rotate(0.05 256.50 424.00)" text-anchor="middle" class="tk">50</text>
<text x="23.90" y="402.80" transform="rotate(0.05 23.90 402.80)" text-anchor="end" class="tk">65</text>
<text x="23.90" y="380.00" transform="rotate(0.05 23.90 380.00)" text-anchor="end" class="tk">70</text>
<text x="23.90" y="357.20" transform="rotate(0.05 23.90 357.20)" text-anchor="end" class="tk">75</text>
<text x="23.90" y="334.40" transform="rotate(0.05 23.90 334.40)" text-anchor="end" class="tk">80</text>
<text x="23.90" y="311.60" transform="rotate(0.05 23.90 311.60)" text-anchor="end" class="tk">85</text>
<text x="23.90" y="288.80" transform="rotate(0.05 23.90 288.80)" text-anchor="end" class="tk">90</text>
<text x="23.90" y="266.00" transform="rotate(0.05 23.90 266.00)" text-anchor="end" class="tk">95</text>
<text x="23.90" y="243.20" transform="rotate(0.05 23.90 243.20)" text-anchor="end" class="tk">100</text>
<text x="147.20" y="431.65" transform="rotate(0.05 147.20 431.65)" text-anchor="middle" class="lb">Sample num per class</text>
<text transform="translate(9.65 326.10) rotate(-89.95)" text-anchor="middle" class="lb">Overall Accuracy (%)</text>
<rect x="204.50" y="314.10" width="61.00" height="98.70" rx="1.2" fill="#fff" fill-opacity="0.85" stroke="#d6d6d6" stroke-width="0.6"/>
<path d="M206.60 318.60H217.90" stroke="#0000ff" stroke-width="0.95"/>
<circle cx="212.25" cy="318.60" r="1.95" fill="#0000ff"/>
<text x="222.30" y="320.55" transform="rotate(0.05 222.30 320.55)" class="lg">2D-CNN</text>
<path d="M206.60 326.73H217.90" stroke="#ffa500" stroke-width="0.95"/>
<polygon points="212.25,324.78 213.94,325.75 213.94,327.71 212.25,328.68 210.56,327.71 210.56,325.75" fill="#ffa500"/>
<text x="222.30" y="328.68" transform="rotate(0.05 222.30 328.68)" class="lg">3D-CNN</text>
<path d="M206.60 334.86H217.90" stroke="#ff0000" stroke-width="0.95"/>
<rect x="210.40" y="333.01" width="3.70" height="3.70" fill="#ff0000"/>
<text x="222.30" y="336.81" transform="rotate(0.05 222.30 336.81)" class="lg">HybridSN</text>
<path d="M206.60 342.99H217.90" stroke="#008000" stroke-width="0.95"/>
<polygon points="212.25,344.94 210.30,341.04 214.20,341.04" fill="#008000"/>
<text x="222.30" y="344.94" transform="rotate(0.05 222.30 344.94)" class="lg">SPRN</text>
<path d="M206.60 351.12H217.90" stroke="#ffff00" stroke-width="0.95"/>
<polygon points="211.60,349.17 212.90,349.17 212.90,350.47 214.20,350.47 214.20,351.77 212.90,351.77 212.90,353.07 211.60,353.07 211.60,351.77 210.30,351.77 210.30,350.47 211.60,350.47" fill="#ffff00"/>
<text x="222.30" y="353.07" transform="rotate(0.05 222.30 353.07)" class="lg">SpectralFormer</text>
<path d="M206.60 359.25H217.90" stroke="#808080" stroke-width="0.9"/>
<circle cx="212.25" cy="359.25" r="1.95" fill="#808080"/>
<text x="222.30" y="361.20" transform="rotate(0.05 222.30 361.20)" class="lg">SSFTT</text>
<path d="M206.60 367.38H217.90" stroke="#8b2596" stroke-width="0.95"/>
<polygon points="212.25,364.61 215.02,367.38 212.25,370.15 209.48,367.38" fill="#8b2596"/>
<text x="222.30" y="369.33" transform="rotate(0.05 222.30 369.33)" class="lg">MorphFormer</text>
<path d="M206.60 375.51H217.90" stroke="#ffc0cb" stroke-width="0.85"/>
<polygon points="212.25,373.56 210.30,377.46 214.20,377.46" fill="#ffc0cb"/>
<text x="222.30" y="377.46" transform="rotate(0.05 222.30 377.46)" class="lg">GSC-ViT</text>
<path d="M206.60 383.64H217.90" stroke="#00ffff" stroke-width="0.95"/>
<path d="M210.30 381.69L214.20 385.59M210.30 385.59L214.20 381.69" stroke="#00ffff" stroke-width="0.8" fill="none"/>
<text x="222.30" y="385.59" transform="rotate(0.05 222.30 385.59)" class="lg">3DSS-Mamba</text>
<path d="M206.60 391.77H217.90" stroke="#00ff00" stroke-width="0.95"/>
<polygon points="214.20,391.77 210.30,389.82 210.30,393.72" fill="#00ff00"/>
<text x="222.30" y="393.72" transform="rotate(0.05 222.30 393.72)" class="lg">SS-Mamba</text>
<path d="M206.60 399.90H217.90" stroke="#000080" stroke-width="0.95"/>
<polygon points="210.30,399.90 214.20,397.95 214.20,401.85" fill="#000080"/>
<text x="222.30" y="401.85" transform="rotate(0.05 222.30 401.85)" class="lg">SSUM</text>
<path d="M206.60 408.03H217.90" stroke="#ad3333" stroke-width="1.1"/>
<polygon points="212.25,406.08 212.69,407.43 214.10,407.43 212.96,408.26 213.40,409.61 212.25,408.77 211.10,409.61 211.54,408.26 210.40,407.43 211.81,407.43" fill="#ad3333"/>
<text x="222.30" y="409.98" transform="rotate(0.05 222.30 409.98)" class="lg">Proposed</text>
<text x="134.20" y="455.30" transform="rotate(0.05 134.20 455.30)" text-anchor="middle" class="cp">(c)</text>
<path d="M340.00 237.50V416.30M388.50 237.50V416.30M437.00 237.50V416.30M485.50 237.50V416.30M534.00 237.50V416.30M304.80 414.20H545.20M304.80 384.90H545.20M304.80 355.60H545.20M304.80 326.30H545.20M304.80 297.00H545.20M304.80 267.70H545.20M304.80 238.40H545.20" stroke="#d9d9d9" stroke-width="0.75" stroke-dasharray="1.1 0.9" fill="none"/>
<path d="M315.75 302.27L340.00 287.33L388.50 282.64L437.00 275.61L485.50 270.04L534.00 269.46" stroke="#0000ff" stroke-width="1.2" fill="none" stroke-linejoin="round"/>
<circle cx="315.75" cy="302.27" r="1.95" fill="#0000ff"/>
<circle cx="340.00" cy="287.33" r="1.95" fill="#0000ff"/>
<circle cx="388.50" cy="282.64" r="1.95" fill="#0000ff"/>
<circle cx="437.00" cy="275.61" r="1.95" fill="#0000ff"/>
<circle cx="485.50" cy="270.04" r="1.95" fill="#0000ff"/>
<circle cx="534.00" cy="269.46" r="1.95" fill="#0000ff"/>
<path d="M315.75 346.81L340.00 320.15L388.50 300.81L437.00 289.09L485.50 277.95L534.00 277.66" stroke="#ffa500" stroke-width="1.2" fill="none" stroke-linejoin="round"/>
<polygon points="315.75,344.86 317.44,345.83 317.44,347.79 315.75,348.76 314.06,347.79 314.06,345.83" fill="#ffa500"/>
<polygon points="340.00,318.20 341.69,319.17 341.69,321.12 340.00,322.10 338.31,321.12 338.31,319.17" fill="#ffa500"/>
<polygon points="388.50,298.86 390.19,299.83 390.19,301.78 388.50,302.76 386.81,301.78 386.81,299.83" fill="#ffa500"/>
<polygon points="437.00,287.14 438.69,288.11 438.69,290.06 437.00,291.04 435.31,290.06 435.31,288.11" fill="#ffa500"/>
<polygon points="485.50,276.00 487.19,276.98 487.19,278.93 485.50,279.90 483.81,278.93 483.81,276.98" fill="#ffa500"/>
<polygon points="534.00,275.71 535.69,276.69 535.69,278.64 534.00,279.61 532.31,278.64 532.31,276.69" fill="#ffa500"/>
<path d="M315.75 335.68L340.00 301.39L388.50 275.61L437.00 258.91L485.50 254.51L534.00 251.88" stroke="#ff0000" stroke-width="1.2" fill="none" stroke-linejoin="round"/>
<rect x="313.90" y="333.82" width="3.70" height="3.70" fill="#ff0000"/>
<rect x="338.15" y="299.54" width="3.70" height="3.70" fill="#ff0000"/>
<rect x="386.65" y="273.76" width="3.70" height="3.70" fill="#ff0000"/>
<rect x="435.15" y="257.06" width="3.70" height="3.70" fill="#ff0000"/>
<rect x="483.65" y="252.66" width="3.70" height="3.70" fill="#ff0000"/>
<rect x="532.15" y="250.03" width="3.70" height="3.70" fill="#ff0000"/>
<path d="M315.75 306.08L340.00 277.37L388.50 258.03L437.00 258.32L485.50 250.12L534.00 248.65" stroke="#008000" stroke-width="1.2" fill="none" stroke-linejoin="round"/>
<polygon points="315.75,308.03 313.80,304.13 317.70,304.13" fill="#008000"/>
<polygon points="340.00,279.32 338.05,275.42 341.95,275.42" fill="#008000"/>
<polygon points="388.50,259.98 386.55,256.08 390.45,256.08" fill="#008000"/>
<polygon points="437.00,260.27 435.05,256.37 438.95,256.37" fill="#008000"/>
<polygon points="485.50,252.07 483.55,248.17 487.45,248.17" fill="#008000"/>
<polygon points="534.00,250.60 532.05,246.70 535.95,246.70" fill="#008000"/>
<path d="M315.75 407.46L340.00 353.55L388.50 345.35L437.00 324.83L485.50 312.82L534.00 301.69" stroke="#ffff00" stroke-width="1.2" fill="none" stroke-linejoin="round"/>
<polygon points="315.10,405.51 316.40,405.51 316.40,406.81 317.70,406.81 317.70,408.11 316.40,408.11 316.40,409.41 315.10,409.41 315.10,408.11 313.80,408.11 313.80,406.81 315.10,406.81" fill="#ffff00"/>
<polygon points="339.35,351.60 340.65,351.60 340.65,352.90 341.95,352.90 341.95,354.20 340.65,354.20 340.65,355.50 339.35,355.50 339.35,354.20 338.05,354.20 338.05,352.90 339.35,352.90" fill="#ffff00"/>
<polygon points="387.85,343.40 389.15,343.40 389.15,344.70 390.45,344.70 390.45,346.00 389.15,346.00 389.15,347.30 387.85,347.30 387.85,346.00 386.55,346.00 386.55,344.70 387.85,344.70" fill="#ffff00"/>
<polygon points="436.35,322.88 437.65,322.88 437.65,324.19 438.95,324.19 438.95,325.48 437.65,325.48 437.65,326.78 436.35,326.78 436.35,325.48 435.05,325.48 435.05,324.19 436.35,324.19" fill="#ffff00"/>
<polygon points="484.85,310.87 486.15,310.87 486.15,312.17 487.45,312.17 487.45,313.47 486.15,313.47 486.15,314.77 484.85,314.77 484.85,313.47 483.55,313.47 483.55,312.17 484.85,312.17" fill="#ffff00"/>
<polygon points="533.35,299.74 534.65,299.74 534.65,301.04 535.95,301.04 535.95,302.34 534.65,302.34 534.65,303.64 533.35,303.64 533.35,302.34 532.05,302.34 532.05,301.04 533.35,301.04" fill="#ffff00"/>
<path d="M315.75 290.55L340.00 268.58L388.50 258.03L437.00 258.32L485.50 250.12L534.00 247.19" stroke="#808080" stroke-width="0.9" fill="none" stroke-linejoin="round"/>
<circle cx="315.75" cy="290.55" r="1.95" fill="#808080"/>
<circle cx="340.00" cy="268.58" r="1.95" fill="#808080"/>
<circle cx="388.50" cy="258.03" r="1.95" fill="#808080"/>
<circle cx="437.00" cy="258.32" r="1.95" fill="#808080"/>
<circle cx="485.50" cy="250.12" r="1.95" fill="#808080"/>
<circle cx="534.00" cy="247.19" r="1.95" fill="#808080"/>
<path d="M315.75 316.63L340.00 280.88L388.50 276.78L437.00 287.33L485.50 254.51L534.00 251.88" stroke="#8b2596" stroke-width="1.2" fill="none" stroke-linejoin="round"/>
<polygon points="315.75,313.86 318.52,316.63 315.75,319.40 312.98,316.63" fill="#8b2596"/>
<polygon points="340.00,278.12 342.77,280.88 340.00,283.65 337.23,280.88" fill="#8b2596"/>
<polygon points="388.50,274.01 391.27,276.78 388.50,279.55 385.73,276.78" fill="#8b2596"/>
<polygon points="437.00,284.56 439.77,287.33 437.00,290.10 434.23,287.33" fill="#8b2596"/>
<polygon points="485.50,251.75 488.27,254.51 485.50,257.28 482.73,254.51" fill="#8b2596"/>
<polygon points="534.00,249.11 536.77,251.88 534.00,254.65 531.23,251.88" fill="#8b2596"/>
<path d="M315.75 313.12L340.00 298.46L388.50 270.63L437.00 260.08L485.50 260.96L534.00 258.91" stroke="#ffc0cb" stroke-width="0.85" fill="none" stroke-linejoin="round"/>
<polygon points="315.75,311.17 313.80,315.06 317.70,315.06" fill="#ffc0cb"/>
<polygon points="340.00,296.51 338.05,300.41 341.95,300.41" fill="#ffc0cb"/>
<polygon points="388.50,268.68 386.55,272.58 390.45,272.58" fill="#ffc0cb"/>
<polygon points="437.00,258.13 435.05,262.03 438.95,262.03" fill="#ffc0cb"/>
<polygon points="485.50,259.01 483.55,262.91 487.45,262.91" fill="#ffc0cb"/>
<polygon points="534.00,256.96 532.05,260.86 535.95,260.86" fill="#ffc0cb"/>
<path d="M315.75 407.46L340.00 369.08L388.50 353.55L437.00 333.62L485.50 270.34L534.00 257.44" stroke="#00ffff" stroke-width="1.2" fill="none" stroke-linejoin="round"/>
<path d="M313.80 405.51L317.70 409.41M313.80 409.41L317.70 405.51" stroke="#00ffff" stroke-width="0.8" fill="none"/>
<path d="M338.05 367.13L341.95 371.03M338.05 371.03L341.95 367.13" stroke="#00ffff" stroke-width="0.8" fill="none"/>
<path d="M386.55 351.60L390.45 355.50M386.55 355.50L390.45 351.60" stroke="#00ffff" stroke-width="0.8" fill="none"/>
<path d="M435.05 331.68L438.95 335.57M435.05 335.57L438.95 331.68" stroke="#00ffff" stroke-width="0.8" fill="none"/>
<path d="M483.55 268.39L487.45 272.29M483.55 272.29L487.45 268.39" stroke="#00ffff" stroke-width="0.8" fill="none"/>
<path d="M532.05 255.50L535.95 259.39M532.05 259.39L535.95 255.50" stroke="#00ffff" stroke-width="0.8" fill="none"/>
<path d="M315.75 287.92L340.00 264.48L388.50 257.15L437.00 250.41L485.50 248.65L534.00 247.19" stroke="#00ff00" stroke-width="1.2" fill="none" stroke-linejoin="round"/>
<polygon points="317.70,287.92 313.80,285.97 313.80,289.87" fill="#00ff00"/>
<polygon points="341.95,264.48 338.05,262.53 338.05,266.43" fill="#00ff00"/>
<polygon points="390.45,257.15 386.55,255.20 386.55,259.10" fill="#00ff00"/>
<polygon points="438.95,250.41 435.05,248.46 435.05,252.36" fill="#00ff00"/>
<polygon points="487.45,248.65 483.55,246.70 483.55,250.60" fill="#00ff00"/>
<polygon points="535.95,247.19 532.05,245.24 532.05,249.14" fill="#00ff00"/>
<path d="M315.75 297.00L340.00 285.28L388.50 263.31L437.00 258.32L485.50 250.12L534.00 248.65" stroke="#000080" stroke-width="1.2" fill="none" stroke-linejoin="round"/>
<polygon points="313.80,297.00 317.70,295.05 317.70,298.95" fill="#000080"/>
<polygon points="338.05,285.28 341.95,283.33 341.95,287.23" fill="#000080"/>
<polygon points="386.55,263.31 390.45,261.36 390.45,265.25" fill="#000080"/>
<polygon points="435.05,258.32 438.95,256.37 438.95,260.27" fill="#000080"/>
<polygon points="483.55,250.12 487.45,248.17 487.45,252.07" fill="#000080"/>
<polygon points="532.05,248.65 535.95,246.70 535.95,250.60" fill="#000080"/>
<path d="M315.75 313.99L340.00 290.55L388.50 252.46L437.00 248.07L485.50 247.19L534.00 246.02" stroke="#ad3333" stroke-width="1.1" fill="none" stroke-linejoin="round"/>
<polygon points="315.75,312.04 316.19,313.39 317.60,313.39 316.46,314.22 316.90,315.57 315.75,314.74 314.60,315.57 315.04,314.22 313.90,313.39 315.31,313.39" fill="#ad3333"/>
<polygon points="340.00,288.60 340.44,289.95 341.85,289.95 340.71,290.78 341.15,292.13 340.00,291.30 338.85,292.13 339.29,290.78 338.15,289.95 339.56,289.95" fill="#ad3333"/>
<polygon points="388.50,250.51 388.94,251.86 390.35,251.86 389.21,252.69 389.65,254.04 388.50,253.21 387.35,254.04 387.79,252.69 386.65,251.86 388.06,251.86" fill="#ad3333"/>
<polygon points="437.00,246.12 437.44,247.47 438.85,247.47 437.71,248.30 438.15,249.65 437.00,248.81 435.85,249.65 436.29,248.30 435.15,247.47 436.56,247.47" fill="#ad3333"/>
<polygon points="485.50,245.24 485.94,246.59 487.35,246.59 486.21,247.42 486.65,248.77 485.50,247.93 484.35,248.77 484.79,247.42 483.65,246.59 485.06,246.59" fill="#ad3333"/>
<polygon points="534.00,244.07 534.44,245.42 535.85,245.42 534.71,246.25 535.15,247.60 534.00,246.76 532.85,247.60 533.29,246.25 532.15,245.42 533.56,245.42" fill="#ad3333"/>
<rect x="304.80" y="237.50" width="240.40" height="178.80" fill="none" stroke="#7f7f7f" stroke-width="1.05"/>
<path d="M340.00 416.30v1.7M388.50 416.30v1.7M437.00 416.30v1.7M485.50 416.30v1.7M534.00 416.30v1.7M304.80 414.20h-1.7M304.80 384.90h-1.7M304.80 355.60h-1.7M304.80 326.30h-1.7M304.80 297.00h-1.7M304.80 267.70h-1.7M304.80 238.40h-1.7" stroke="#444" stroke-width="0.6" fill="none"/>
<text x="340.00" y="424.90" transform="rotate(0.05 340.00 424.90)" text-anchor="middle" class="tk">10</text>
<text x="388.50" y="424.90" transform="rotate(0.05 388.50 424.90)" text-anchor="middle" class="tk">20</text>
<text x="437.00" y="424.90" transform="rotate(0.05 437.00 424.90)" text-anchor="middle" class="tk">30</text>
<text x="485.50" y="424.90" transform="rotate(0.05 485.50 424.90)" text-anchor="middle" class="tk">40</text>
<text x="534.00" y="424.90" transform="rotate(0.05 534.00 424.90)" text-anchor="middle" class="tk">50</text>
<text x="301.50" y="416.60" transform="rotate(0.05 301.50 416.60)" text-anchor="end" class="tk">40</text>
<text x="301.50" y="387.30" transform="rotate(0.05 301.50 387.30)" text-anchor="end" class="tk">50</text>
<text x="301.50" y="358.00" transform="rotate(0.05 301.50 358.00)" text-anchor="end" class="tk">60</text>
<text x="301.50" y="328.70" transform="rotate(0.05 301.50 328.70)" text-anchor="end" class="tk">70</text>
<text x="301.50" y="299.40" transform="rotate(0.05 301.50 299.40)" text-anchor="end" class="tk">80</text>
<text x="301.50" y="270.10" transform="rotate(0.05 301.50 270.10)" text-anchor="end" class="tk">90</text>
<text x="301.50" y="240.80" transform="rotate(0.05 301.50 240.80)" text-anchor="end" class="tk">100</text>
<text x="425.00" y="432.55" transform="rotate(0.05 425.00 432.55)" text-anchor="middle" class="lb">Sample num per class</text>
<text transform="translate(287.55 326.90) rotate(-89.95)" text-anchor="middle" class="lb">Overall Accuracy (%)</text>
<rect x="481.30" y="314.50" width="60.70" height="99.20" rx="1.2" fill="#fff" fill-opacity="0.85" stroke="#d6d6d6" stroke-width="0.6"/>
<path d="M483.40 319.10H494.70" stroke="#0000ff" stroke-width="0.95"/>
<circle cx="489.05" cy="319.10" r="1.95" fill="#0000ff"/>
<text x="499.10" y="321.05" transform="rotate(0.05 499.10 321.05)" class="lg">2D-CNN</text>
<path d="M483.40 327.19H494.70" stroke="#ffa500" stroke-width="0.95"/>
<polygon points="489.05,325.24 490.74,326.21 490.74,328.17 489.05,329.14 487.36,328.17 487.36,326.21" fill="#ffa500"/>
<text x="499.10" y="329.14" transform="rotate(0.05 499.10 329.14)" class="lg">3D-CNN</text>
<path d="M483.40 335.28H494.70" stroke="#ff0000" stroke-width="0.95"/>
<rect x="487.20" y="333.43" width="3.70" height="3.70" fill="#ff0000"/>
<text x="499.10" y="337.23" transform="rotate(0.05 499.10 337.23)" class="lg">HybridSN</text>
<path d="M483.40 343.37H494.70" stroke="#008000" stroke-width="0.95"/>
<polygon points="489.05,345.32 487.10,341.42 491.00,341.42" fill="#008000"/>
<text x="499.10" y="345.32" transform="rotate(0.05 499.10 345.32)" class="lg">SPRN</text>
<path d="M483.40 351.46H494.70" stroke="#ffff00" stroke-width="0.95"/>
<polygon points="488.40,349.51 489.70,349.51 489.70,350.81 491.00,350.81 491.00,352.11 489.70,352.11 489.70,353.41 488.40,353.41 488.40,352.11 487.10,352.11 487.10,350.81 488.40,350.81" fill="#ffff00"/>
<text x="499.10" y="353.41" transform="rotate(0.05 499.10 353.41)" class="lg">SpectralFormer</text>
<path d="M483.40 359.55H494.70" stroke="#808080" stroke-width="0.9"/>
<circle cx="489.05" cy="359.55" r="1.95" fill="#808080"/>
<text x="499.10" y="361.50" transform="rotate(0.05 499.10 361.50)" class="lg">SSFTT</text>
<path d="M483.40 367.64H494.70" stroke="#8b2596" stroke-width="0.95"/>
<polygon points="489.05,364.87 491.82,367.64 489.05,370.41 486.28,367.64" fill="#8b2596"/>
<text x="499.10" y="369.59" transform="rotate(0.05 499.10 369.59)" class="lg">MorphFormer</text>
<path d="M483.40 375.73H494.70" stroke="#ffc0cb" stroke-width="0.85"/>
<polygon points="489.05,373.78 487.10,377.68 491.00,377.68" fill="#ffc0cb"/>
<text x="499.10" y="377.68" transform="rotate(0.05 499.10 377.68)" class="lg">GSC-ViT</text>
<path d="M483.40 383.82H494.70" stroke="#00ffff" stroke-width="0.95"/>
<path d="M487.10 381.87L491.00 385.77M487.10 385.77L491.00 381.87" stroke="#00ffff" stroke-width="0.8" fill="none"/>
<text x="499.10" y="385.77" transform="rotate(0.05 499.10 385.77)" class="lg">3DSS-Mamba</text>
<path d="M483.40 391.91H494.70" stroke="#00ff00" stroke-width="0.95"/>
<polygon points="491.00,391.91 487.10,389.96 487.10,393.86" fill="#00ff00"/>
<text x="499.10" y="393.86" transform="rotate(0.05 499.10 393.86)" class="lg">SS-Mamba</text>
<path d="M483.40 400.00H494.70" stroke="#000080" stroke-width="0.95"/>
<polygon points="487.10,400.00 491.00,398.05 491.00,401.95" fill="#000080"/>
<text x="499.10" y="401.95" transform="rotate(0.05 499.10 401.95)" class="lg">SSUM</text>
<path d="M483.40 408.09H494.70" stroke="#ad3333" stroke-width="1.1"/>
<polygon points="489.05,406.14 489.49,407.49 490.90,407.49 489.76,408.32 490.20,409.67 489.05,408.83 487.90,409.67 488.34,408.32 487.20,407.49 488.61,407.49" fill="#ad3333"/>
<text x="499.10" y="410.04" transform="rotate(0.05 499.10 410.04)" class="lg">Proposed</text>
<text x="411.30" y="455.30" transform="rotate(0.05 411.30 455.30)" text-anchor="middle" class="cp">(d)</text>
</svg>
</body></html>
